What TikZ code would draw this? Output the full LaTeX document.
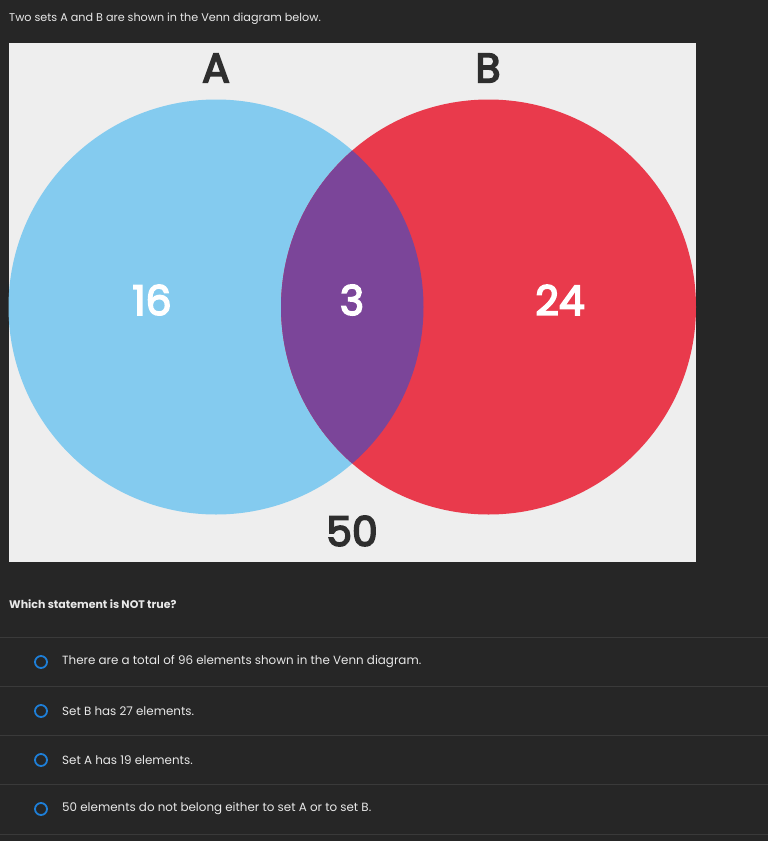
\documentclass[tikz,border=0pt]{standalone}
\usepackage{fontspec}
\setmainfont{Poppins}
\newfontfamily\numfont[FakeBold=4]{Poppins}
\definecolor{pagebg}{HTML}{262626}
\definecolor{panelbg}{HTML}{EEEEEE}
\definecolor{setA}{HTML}{84CBEF}
\definecolor{setB}{HTML}{E93A4C}
\definecolor{setAB}{HTML}{7B4599}
\definecolor{darktext}{HTML}{2E2E2E}
\definecolor{lighttext}{HTML}{E8E8E8}
\definecolor{sepline}{HTML}{3A3A3A}
\definecolor{radio}{HTML}{1E7FD8}
\tikzset{
  biglabel/.style={font=\fontsize{41}{41}\numfont, text=darktext},
  numlabel/.style={font=\fontsize{41}{41}\numfont, text=white},
  bodytext/.style={font=\fontsize{11.2}{13}\selectfont, text=lighttext, anchor=west, inner sep=0},
  opttext/.style={font=\fontsize{11.9}{14}\selectfont, text=lighttext, anchor=west, inner sep=0},
  radiobtn/.style={circle, draw=radio, line width=1.8pt, minimum size=12pt, inner sep=0},
  sep/.style={draw=sepline, line width=1pt},
}
\begin{document}
\begin{tikzpicture}[x=1pt,y=-1pt]
\fill[pagebg] (0,0) rectangle (768,841);
\useasboundingbox (0,0) rectangle (768,841);
\node[bodytext] (intro) at (9,19) {Two sets A and B are shown in the Venn diagram below.};
\fill[panelbg] (9,43) rectangle (696,562);
\fill[setA] (216,307) circle (207.5);
\fill[setB] (488.5,307) circle (207.5);
\begin{scope}
\clip (216,307) circle (207.5);
\fill[setAB] (488.5,307) circle (207.5);
\end{scope}
\node[biglabel] (la) at (216,68) {A};
\node[biglabel] (lb) at (488,68) {B};
\node[numlabel] (n16) at (152,300) {16};
\node[numlabel] (n3) at (352,300) {3};
\node[numlabel] (n24) at (560,300) {24};
\node[biglabel] (n50) at (352,531) {50};
\node[bodytext, font=\fontsize{11}{13}\selectfont\bfseries] (q) at (9,604) {Which statement is NOT true?};
\coordinate (s0l) at (0,637); \coordinate (s0r) at (768,637);
\coordinate (s1l) at (0,686); \coordinate (s1r) at (768,686);
\coordinate (s2l) at (0,735); \coordinate (s2r) at (768,735);
\coordinate (s3l) at (0,784); \coordinate (s3r) at (768,784);
\coordinate (s4l) at (0,834); \coordinate (s4r) at (768,834);
\draw[sep] (s0l) -- (s0r);
\draw[sep] (s1l) -- (s1r);
\draw[sep] (s2l) -- (s2r);
\draw[sep] (s3l) -- (s3r);
\draw[sep] (s4l) -- (s4r);
\node[radiobtn] (r1) at (41,662) {};
\node[radiobtn] (r2) at (41,711) {};
\node[radiobtn] (r3) at (41,760) {};
\node[radiobtn] (r4) at (41,809) {};
\node[opttext] (o1) at (62,662) {There are a total of 96 elements shown in the Venn diagram.};
\node[opttext] (o2) at (62,711) {Set B has 27 elements.};
\node[opttext] (o3) at (62,760) {Set A has 19 elements.};
\node[opttext] (o4) at (62,809) {50 elements do not belong either to set A or to set B.};
\end{tikzpicture}
\end{document}
